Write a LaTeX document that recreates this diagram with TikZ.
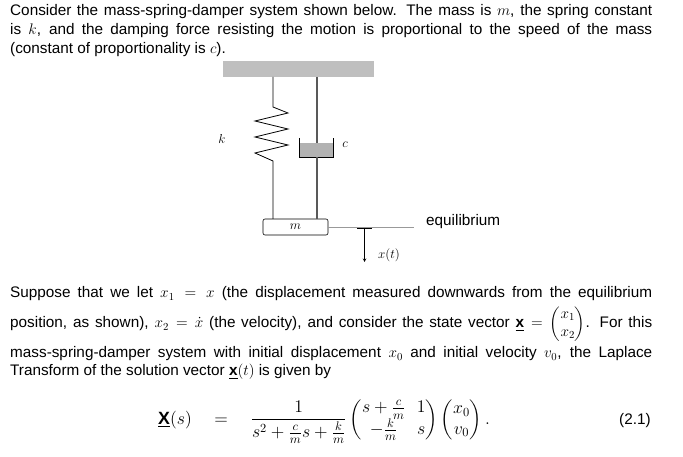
\documentclass[tikz,border=0pt]{standalone}
\usepackage{fix-cm}
\usepackage{amsmath}
\usepackage{fontspec}
\setmainfont{Liberation Sans}
\begin{document}
\begin{tikzpicture}[x=1pt,y=-1pt,
  txt/.style={anchor=west,inner sep=0pt,font=\fontsize{15.3}{18}\selectfont},
  lab/.style={inner sep=0pt,font=\fontsize{13}{15}\selectfont},
  ln/.style={line width=0.8pt},
  gln/.style={line width=1.2pt,draw=black!65}]
\useasboundingbox (0,0) rectangle (683,457);
% text
\node[txt] (l1) at (10,12) {\hbox to 642pt{Consider the mass-spring-damper system shown below. The mass is $m$, the spring constant}};
\node[txt] (l2) at (10,31) {\hbox to 642pt{is $k$, and the damping force resisting the motion is proportional to the speed of the mass}};
\node[txt] (l3) at (10,50) {(constant of proportionality is $c$).};
% diagram
\fill[black!25] (223,61) rectangle (374,77);
\node[draw,rounded corners=2pt,minimum width=65pt,minimum height=16pt,inner sep=0pt,fill=white,line width=0.6pt,font=\fontsize{13}{15}\selectfont] (mass) at (295.5,227) {$m$};
\draw[ln] (273,77) -- (273,107) -- (288,113) -- (255,121) -- (288,129) -- (255,137) -- (288,145) -- (255,153) -- (273,161) -- (273,219);
\draw[gln] (317,77) -- (317,146);
\fill[black!30] (299,143) rectangle (333,157);
\draw[ln] (299,138) -- (299,157) -- (333,157) -- (333,138);
\draw[gln] (317,157) -- (317,219);
\node[lab] (k) at (222,139) {$k$};
\node[lab] (c) at (345,145) {$c$};
\coordinate (eqa) at (328,227);
\coordinate (eqb) at (414,227);
\draw[black!40,line width=0.5pt] (eqa) -- (eqb);
\node[txt] (eqt) at (426,222) {equilibrium};
\coordinate (ta) at (357,228); \coordinate (tb) at (372,228);
\coordinate (tm) at (364.5,228); \coordinate (te) at (364.5,262);
\draw[line width=0.6pt] (ta) -- (tb);
\draw[line width=0.6pt,-stealth] (tm) -- (te);
\node[lab] (xt) at (389,255) {$x(t)$};
% paragraph 2
\node[txt] (p1) at (10,294) {\hbox to 642pt{Suppose that we let $x_1 = x$ (the displacement measured downwards from the equilibrium}};
\node[txt] (p2) at (10,324) {\hbox to 642pt{position, as shown), $x_2 = \dot{x}$ (the velocity), and consider the state vector $\underline{\mathbf{x}} = \begin{pmatrix}x_1\\ x_2\end{pmatrix}$. For this}};
\node[txt] (p3) at (10,354) {\hbox to 642pt{mass-spring-damper system with initial displacement $x_0$ and initial velocity $v_0$, the Laplace}};
\node[txt] (p4) at (10,372) {Transform of the solution vector $\underline{\mathbf{x}}(t)$ is given by};
\node[txt,scale=1.16,transform shape] (eq) at (158,421) {$\displaystyle \underline{\mathbf{X}}(s)\quad=\quad\frac{1}{s^2+\frac{c}{m}s+\frac{k}{m}}\begin{pmatrix}s+\frac{c}{m} & 1\\ -\frac{k}{m} & s\end{pmatrix}\begin{pmatrix}x_0\\ v_0\end{pmatrix}.$};
\node[txt] (num) at (619,421) {(2.1)};
\end{tikzpicture}
\end{document}
